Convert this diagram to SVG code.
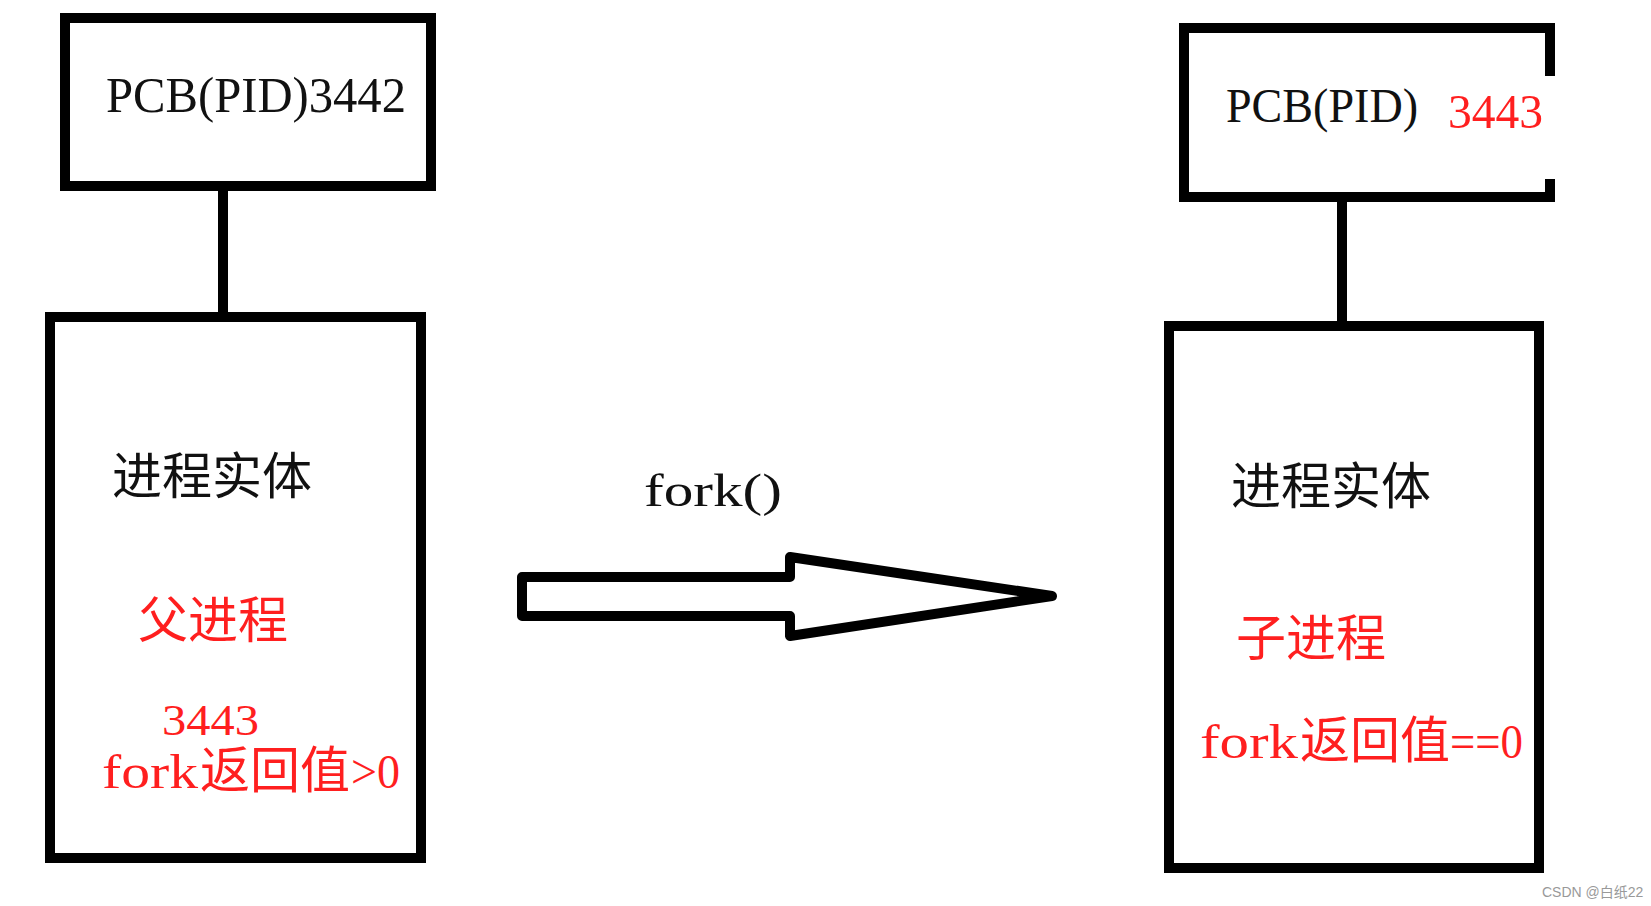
<svg xmlns="http://www.w3.org/2000/svg" width="1651" height="906" viewBox="0 0 1651 906">
<style>
.box{fill:none;stroke:#000;stroke-width:10;stroke-linejoin:miter}
.line{stroke:#000;stroke-width:10;fill:none}
.lat{font-family:"Liberation Serif","Noto Sans CJK SC",serif}
.cjk{font-family:"Noto Sans CJK SC",sans-serif}
.blk{fill:#111}
.red{fill:#ff1f1f}
</style>
<rect width="1651" height="906" fill="#fff"/>
<g id="connectors">
<line class="line" x1="223" y1="186" x2="223" y2="317"/>
<line class="line" x1="1342" y1="197" x2="1342" y2="326"/>
<path id="fork-arrow" d="M522,577 H790 V557 L1052,596 L790,636 V616 H522 Z" fill="#fff" stroke="#000" stroke-width="10" stroke-linejoin="round"/>
<text class="lat blk" x="644" y="506" font-size="46" textLength="138" lengthAdjust="spacingAndGlyphs">fork()</text>
</g>
<g id="parent-pcb">
<rect class="box" x="65" y="18" width="366" height="168"/>
<text class="lat blk" x="106" y="112" font-size="51" textLength="300" lengthAdjust="spacingAndGlyphs">PCB(PID)3442</text>
</g>
<g id="parent-body">
<rect class="box" x="50" y="317" width="371" height="541"/>
<text class="cjk blk" x="112" y="494" font-size="50">进程实体</text>
<text class="cjk red" x="138" y="638" font-size="50">父进程</text>
<text class="lat red" x="162" y="735" font-size="45" textLength="97" lengthAdjust="spacingAndGlyphs">3443</text>
<text class="red" y="788"><tspan class="lat" x="102" font-size="48" textLength="96" lengthAdjust="spacingAndGlyphs">fork</tspan><tspan class="cjk" x="200" font-size="50">返回值</tspan><tspan class="lat" x="351" font-size="48" textLength="49" lengthAdjust="spacingAndGlyphs">&gt;0</tspan></text>
</g>
<g id="child-pcb">
<path class="box" d="M1550,76 V28 H1184 V197 H1550 V179"/>
<text class="lat blk" x="1226" y="122" font-size="49" textLength="192" lengthAdjust="spacingAndGlyphs">PCB(PID)</text>
<text class="lat red" x="1448" y="128" font-size="49" textLength="95" lengthAdjust="spacingAndGlyphs">3443</text>
</g>
<g id="child-body">
<rect class="box" x="1169" y="326" width="370" height="542"/>
<text class="cjk blk" x="1231" y="504" font-size="50">进程实体</text>
<text class="cjk red" x="1236" y="656" font-size="50">子进程</text>
<text class="red" y="758"><tspan class="lat" x="1200" font-size="48" textLength="98" lengthAdjust="spacingAndGlyphs">fork</tspan><tspan class="cjk" x="1300" font-size="50">返回值</tspan><tspan class="lat" x="1450" font-size="48" textLength="73" lengthAdjust="spacingAndGlyphs">==0</tspan></text>
</g>
<text x="1542" y="897" font-family="'Liberation Sans','Noto Sans CJK SC',sans-serif" font-size="14" fill="#999">CSDN @白纸22</text>
</svg>
